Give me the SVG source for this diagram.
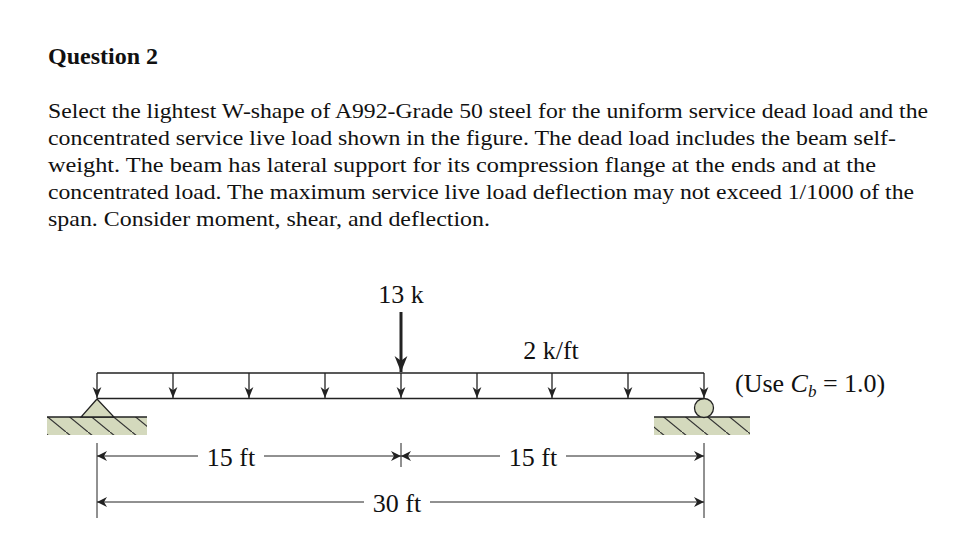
<svg xmlns="http://www.w3.org/2000/svg" width="965" height="550" viewBox="0 0 965 550">
<defs>
<marker id="ah" viewBox="0 0 10 10" refX="10" refY="5" markerWidth="11" markerHeight="11" markerUnits="userSpaceOnUse" orient="auto"><path d="M0,1 L10,5 L0,9 L3,5 Z" fill="#222"/></marker>
<marker id="ahd" viewBox="0 0 10 10" refX="10" refY="5" markerWidth="18" markerHeight="10" markerUnits="userSpaceOnUse" orient="auto-start-reverse"><path d="M0,0 L10,5 L0,10 L3,5 Z" fill="#222"/></marker>
<marker id="ahb" viewBox="0 0 10 10" refX="10" refY="5" markerWidth="16" markerHeight="16" markerUnits="userSpaceOnUse" orient="auto"><path d="M0,1 L10,5 L0,9 L3,5 Z" fill="#222"/></marker>
<pattern id="hatch" patternUnits="userSpaceOnUse" width="22" height="18"><path d="M0,0 L22,18" stroke="#333" stroke-width="1.2"/></pattern>
</defs>
<style>
text{font-family:"Liberation Serif","Times New Roman",serif;fill:#111}
.p{font-size:22px}
.f{font-size:26px}
.l{stroke:#222;stroke-width:1.3;fill:none}
.d{stroke:#222;stroke-width:1;fill:none}
</style>
<rect width="965" height="550" fill="#fff"/>
<g id="text">
<text x="48" y="64" font-size="24" font-weight="bold">Question 2</text>
<text class="p" x="48" y="118" textLength="880" lengthAdjust="spacingAndGlyphs">Select the lightest W-shape of A992-Grade 50 steel for the uniform service dead load and the</text>
<text class="p" x="48" y="145" textLength="848" lengthAdjust="spacingAndGlyphs">concentrated service live load shown in the figure. The dead load includes the beam self-</text>
<text class="p" x="48" y="172" textLength="828" lengthAdjust="spacingAndGlyphs">weight. The beam has lateral support for its compression flange at the ends and at the</text>
<text class="p" x="48" y="199" textLength="866" lengthAdjust="spacingAndGlyphs">concentrated load. The maximum service live load deflection may not exceed 1/1000 of the</text>
<text class="p" x="48" y="226" textLength="442" lengthAdjust="spacingAndGlyphs">span. Consider moment, shear, and deflection.</text>
</g>
<g id="supports">
<rect x="47" y="417" width="100" height="18" fill="#d4d9bd"/>
<rect x="47" y="417" width="100" height="18" fill="url(#hatch)"/>
<line class="l" x1="47" y1="417" x2="147" y2="417"/>
<path d="M97,399 L81,417 L114,417 Z" fill="#d4d9bd" stroke="#222" stroke-width="1.3"/>
<rect x="654" y="417" width="96" height="18" fill="#d4d9bd"/>
<rect x="654" y="417" width="96" height="18" fill="url(#hatch)"/>
<line class="l" x1="654" y1="417" x2="750" y2="417"/>
<circle cx="704" cy="408" r="9.5" fill="#d4d9bd" stroke="#222" stroke-width="1.3"/>
</g>
<g id="beam">
<line class="l" x1="97" y1="373" x2="704" y2="373"/>
<line class="l" x1="97" y1="398.5" x2="704" y2="398.5"/>
</g>
<g id="connectors">
<g class="l" marker-end="url(#ah)">
<line x1="97" y1="373" x2="97" y2="398"/><line x1="173" y1="373" x2="173" y2="398"/>
<line x1="249" y1="373" x2="249" y2="398"/><line x1="325" y1="373" x2="325" y2="398"/>
<line x1="401" y1="373" x2="401" y2="398"/><line x1="477" y1="373" x2="477" y2="398"/>
<line x1="552" y1="373" x2="552" y2="398"/><line x1="628" y1="373" x2="628" y2="398"/>
<line x1="704" y1="373" x2="704" y2="398"/>
</g>
<line x1="401" y1="312" x2="401" y2="372" stroke="#222" stroke-width="3" marker-end="url(#ahb)"/>
<line class="d" x1="97" y1="443" x2="97" y2="518"/>
<line class="d" x1="704" y1="443" x2="704" y2="518"/>
<line class="d" x1="401" y1="443" x2="401" y2="467"/>
<line class="d" x1="97" y1="456" x2="401" y2="456" marker-start="url(#ahd)" marker-end="url(#ahd)"/>
<line class="d" x1="401" y1="456" x2="704" y2="456" marker-start="url(#ahd)" marker-end="url(#ahd)"/>
<line class="d" x1="97" y1="502" x2="704" y2="502" marker-start="url(#ahd)" marker-end="url(#ahd)"/>
</g>
<g id="labels">
<text class="f" x="401" y="303" text-anchor="middle">13 k</text>
<text class="f" x="551" y="359" text-anchor="middle">2 k/ft</text>
<rect x="198" y="443" width="66" height="26" fill="#fff"/>
<text class="f" x="231" y="466" text-anchor="middle">15 ft</text>
<rect x="500" y="443" width="66" height="26" fill="#fff"/>
<text class="f" x="533" y="466" text-anchor="middle">15 ft</text>
<rect x="364" y="489" width="66" height="26" fill="#fff"/>
<text class="f" x="397" y="512" text-anchor="middle">30 ft</text>
<text class="f" x="735" y="392">(Use <tspan font-style="italic">C</tspan><tspan font-style="italic" font-size="17" dy="5">b</tspan><tspan dy="-5"> = 1.0)</tspan></text>
</g>
</svg>
